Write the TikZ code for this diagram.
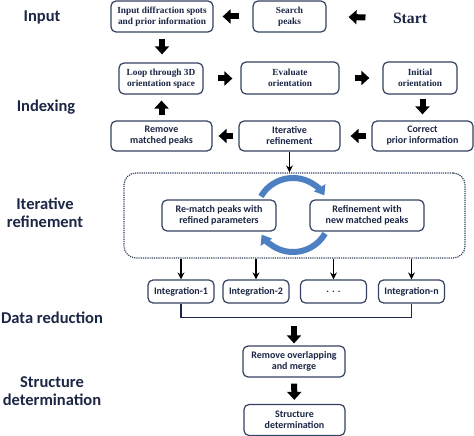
\documentclass[tikz,border=0pt]{standalone}
\usepackage{fontspec}
\setmainfont{Liberation Serif}
\setsansfont{Carlito}
\usepackage{tikz}
\usetikzlibrary{arrows.meta}
\usetikzlibrary{positioning}
\definecolor{mnavy}{rgb}{0.11, 0.15, 0.27}
\definecolor{mframe}{rgb}{0.20, 0.26, 0.38}
\definecolor{mcyc}{rgb}{0.30, 0.50, 0.76}
\tikzset{box/.style = {draw=mframe, line width=1.2pt, rounded corners=5pt, fill=white,
                       text=mnavy, align=center, inner sep=1pt,
                       font=\sffamily\bfseries\fontsize{10}{11}\selectfont}}
\tikzset{serifbox/.style = {box, font=\rmfamily\bfseries\fontsize{9.3}{11}\selectfont}}
\tikzset{dims/.style 2 args = {minimum width=#1pt, minimum height=#2pt}}
\tikzset{stage/.style = {text=mnavy, align=center,
                         font=\sffamily\bfseries\fontsize{16.5}{18.5}\selectfont}}
\tikzset{fat/.style = {line width=6pt, -{Triangle[width=14pt, length=8pt]}}}
\tikzset{thinarr/.style = {line width=1.3pt, -{Stealth[width=7pt, length=7pt]}}}
\tikzset{cyc/.style = {mcyc, line width=6pt, -{Triangle[width=13pt, length=9pt]}}}

\begin{document}
\begin{tikzpicture}[x=1pt, y=-1pt]
    \useasboundingbox (0, 0) rectangle (474, 436);

    % stages
    \node [stage] (sinput) at (42, 17) {Input};
    \node [stage] (sindex) at (46, 107) {Indexing};
    \node [stage] (siter) at (45, 213) {Iterative\\refinement};
    \node [stage] (sred) at (52, 318) {Data reduction};
    \node [stage] (sstruct) at (52, 391) {Structure\\determination};
    \node [stage, font=\rmfamily\bfseries\fontsize{15.7}{18}\selectfont] (start) at (410, 18) {Start};

    % indexing
    \node [serifbox, dims={102}{31}] (input) at (162, 16.5) {Input diffraction spots\\and prior information};
    \node [serifbox, dims={73}{31}] (search) at (289.5, 16.5) {Search\\peaks};
    \node [serifbox, dims={84}{31}] (loop) at (161, 78.5) {Loop through 3D\\orientation space};
    \node [serifbox, dims={98}{32}] (eval) at (290, 78) {Evaluate\\orientation};
    \node [serifbox, dims={74}{32}] (init) at (420, 78) {Initial\\orientation};
    \node [box, dims={101}{30}] (remove) at (161.5, 136) {Remove\\matched peaks};
    \node [box, dims={101}{30}] (iter) at (289.5, 136) {Iterative\\refinement};
    \node [box, dims={101}{30}] (correct) at (422.5, 136) {Correct\\prior information};

    \draw [fat, shorten <=24pt, shorten >=22pt] (start.west) -- (search.east);
    \draw [fat, shorten <=13pt, shorten >=9pt] (search) -- (input);
    \draw [fat, shorten <=6pt, shorten >=8pt] (input.south) -- (input.south |- loop.north);
    \draw [fat, shorten <=14pt, shorten >=8pt] (loop.east) -- (loop.east -| eval.west);
    \draw [fat, shorten <=15pt, shorten >=13pt] (eval) -- (init);
    \draw [fat, shorten <=4pt, shorten >=6pt] (correct.north |- init.south) -- (correct.north);
    \draw [fat, shorten <=5pt, shorten >=10pt] (correct) -- (iter);
    \draw [fat, shorten <=5pt, shorten >=6pt] (iter) -- (remove);
    \draw [fat, shorten <=5pt, shorten >=6pt] (remove.north) -- (remove.north |- loop.south);

    % refinement loop
    \node [draw=mframe, line width=1.2pt, densely dotted, rounded corners=12pt,
           dims={341}{85}] (loopbox) at (294.5, 215.5) {};
    \draw [thinarr] (iter.south) -- (iter.south |- loopbox.north);

    \coordinate (ctr) at (293, 215);
    \draw [cyc] ([shift={(210:37)}]ctr) arc [start angle=210, end angle=328, radius=37];
    \draw [cyc] ([shift={(30:37)}]ctr) arc [start angle=30, end angle=148, radius=37];

    \node [box, dims={114}{31}] (rematch) at (219, 215.5) {Re-match peaks with\\refined parameters};
    \node [box, dims={114}{31}] (refine) at (367, 215.5) {Refinement with\\new matched peaks};

    % data reduction
    \foreach \n/\x/\t in {int1/181/Integration-1, int2/256/Integration-2,
                          dots/333.5/. . ., intn/411.5/Integration-n} {
      \node [box, dims={66}{23}] (\n) at (\x, 291.5) {\t};
      \draw [thinarr] (\n.north |- loopbox.south) -- (\n.north);
    }
    \draw [mnavy, line width=1.3pt] (int1.south) -- ++(0, 14) -| (intn.south);
    \coordinate (join) at (294, 317);

    \node [box, dims={102}{31}] (merge) at (294, 361.5) {Remove overlapping\\and merge};
    \node [box, dims={101}{31}] (struct) at (294.5, 420) {Structure\\determination};

    \draw [fat, shorten <=9pt, shorten >=2pt] (join) -- (merge);
    \draw [fat, shorten <=6pt, shorten >=4pt] (merge) -- (struct);
\end{tikzpicture}
\end{document}
